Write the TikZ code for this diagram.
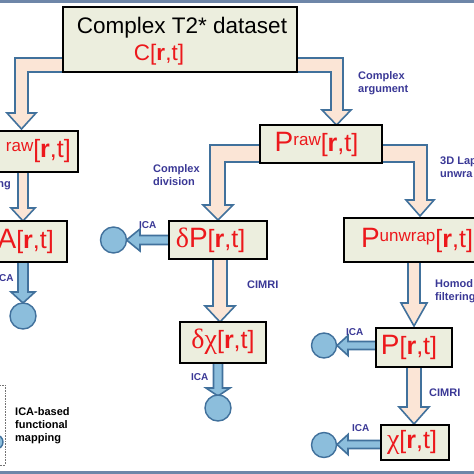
\documentclass[tikz,border=0pt]{standalone}
\usepackage{fontspec}
\setmainfont{Liberation Sans}
\newfontfamily\grk{Liberation Serif}
\definecolor{boxfill}{RGB}{236,238,222}
\definecolor{peach}{RGB}{251,229,214}
\definecolor{arrowedge}{RGB}{65,113,156}
\definecolor{bluefill}{RGB}{140,190,220}
\definecolor{redc}{RGB}{236,24,28}
\definecolor{lblue}{RGB}{58,56,150}
\definecolor{band}{RGB}{110,134,168}
\newcommand\bigt[1]{{\fontsize{28}{28}\selectfont #1}}
\newcommand\rtt{{\fontsize{25}{25}\selectfont[\textbf{r},t]}}
\newcommand\sups[1]{\raisebox{6pt}{\fontsize{17}{17}\selectfont #1}}
\newcommand\grkbig[1]{{\grk\fontsize{28}{28}\selectfont #1}}
% vertical block arrow: style, cx, ytop, ybase, ytip, half shaft, half head
\newcommand\varrow[7]{\draw[#1] ({#2-#6},#3) -- ({#2-#6},#4) -- ({#2-#7},#4) -- (#2,#5) -- ({#2+#7},#4) -- ({#2+#6},#4) -- ({#2+#6},#3) -- cycle;}
% leftward block arrow: style, xright, xbase, xtip, cy, half shaft, half head
\newcommand\harrow[7]{\draw[#1] (#2,{#5-#6}) -- (#3,{#5-#6}) -- (#3,{#5-#7}) -- (#4,#5) -- (#3,{#5+#7}) -- (#3,{#5+#6}) -- (#2,{#5+#6}) -- cycle;}
\tikzset{
  box/.style={draw=black, line width=1.8pt, fill=boxfill, inner sep=0pt, outer sep=0pt},
  peacharrow/.style={draw=arrowedge, line width=1.6pt, fill=peach, line join=miter},
  bluearrow/.style={draw=arrowedge, line width=1.6pt, fill=bluefill, line join=miter},
  bluecirc/.style={draw=arrowedge, line width=1.4pt, fill=bluefill, circle, inner sep=0pt},
  lbl/.style={text=lblue, font=\bfseries\fontsize{11}{13}\selectfont, align=left, inner sep=0pt},
  redtxt/.style={text=redc, inner sep=0pt},
}
\begin{document}
\begin{tikzpicture}[x=1pt,y=-1pt]
\useasboundingbox (0,0) rectangle (474,474);
\fill[white] (0,0) rectangle (474,474);
\fill[band] (0,0) rectangle (474,2.5);
\fill[band] (0,471) rectangle (474,474);

% ---- block arrows (drawn first, boxes cover their ends)
\draw[peacharrow] (70,58) -- (15,58) -- (15,113) -- (7,113) -- (21.5,129) -- (36,113) -- (28,113) -- (28,72) -- (70,72) -- cycle;
\draw[peacharrow] (290,58) -- (343,58) -- (343,110) -- (351,110) -- (336.5,125) -- (322,110) -- (331,110) -- (331,72) -- (290,72) -- cycle;
\varrow{peacharrow}{23}{170}{208}{221}{5}{12}
\varrow{bluearrow}{23}{260}{292}{303}{5}{12}
\draw[peacharrow] (264,145) -- (210,145) -- (210,205) -- (203,205) -- (218,220) -- (233,205) -- (225,205) -- (225,162) -- (264,162) -- cycle;
\harrow{bluearrow}{171}{140}{126.5}{240}{4.5}{11}
\varrow{peacharrow}{220}{257}{306}{322}{7}{15}
\varrow{bluearrow}{218}{361}{388}{396}{4.5}{12}
\draw[peacharrow] (378,145) -- (427,145) -- (427,200) -- (434,200) -- (420,216) -- (406,200) -- (414,200) -- (414,162) -- (378,162) -- cycle;
\varrow{peacharrow}{414}{260}{303}{326}{6}{13}
\harrow{bluearrow}{378}{348}{337}{345.5}{4}{10}
\varrow{peacharrow}{414}{365}{407}{424}{7}{15}
\harrow{bluearrow}{383}{348}{337}{444.5}{4}{10}

% ---- circles
\node[bluecirc, minimum size=26pt] (c1) at (23,316) {};
\node[bluecirc, minimum size=26pt] (c2) at (113.5,240) {};
\node[bluecirc, minimum size=26pt] (c3) at (218,408) {};
\node[bluecirc, minimum size=25pt] (c4) at (324,345.5) {};
\node[bluecirc, minimum size=25pt] (c5) at (324,445) {};

% ---- boxes
\node[box, minimum width=234pt, minimum height=65pt] (top) at (180,39.5) {};
\node[box, minimum width=88pt, minimum height=41pt] (prawL) at (34,151.5) {};
\node[box, minimum width=77pt, minimum height=41pt] (A) at (28.5,241.5) {};
\node[box, minimum width=122pt, minimum height=38pt] (praw) at (321,144) {};
\node[box, minimum width=98pt, minimum height=38pt] (dP) at (218,240) {};
\node[box, minimum width=86pt, minimum height=41pt] (dchi) at (223,342.5) {};
\node[box, minimum width=136pt, minimum height=44pt] (pun) at (412,240) {};
\node[box, minimum width=76pt, minimum height=39pt] (P) at (414,347.5) {};
\node[box, minimum width=68pt, minimum height=35pt] (chi) at (415,442.5) {};

% ---- box texts
\node[inner sep=0pt, font=\fontsize{22.5}{27}\selectfont] (toptxt) at (182,28) {Complex T2* dataset};
\node[redtxt, font=\fontsize{22.5}{27}\selectfont] (toprt) at (159,55) {C[\textbf{r},t]};
\node[redtxt, anchor=east] (prawLtxt) at (71,151) {\sups{raw}\rtt};
\node[redtxt, anchor=east] (Atxt) at (54,241) {\bigt{A}\rtt};
\node[redtxt] (prawtxt) at (316.5,144) {\bigt{P}\sups{raw}\rtt};
\node[redtxt] (dPtxt) at (210.5,240) {\grkbig{δ}\bigt{P}\rtt};
\node[redtxt] (dchitxt) at (223,342) {\grkbig{δχ}\rtt};
\node[redtxt] (puntxt) at (417,240) {\bigt{P}\sups{unwrap}\rtt};
\node[redtxt] (Ptxt) at (409,347) {\bigt{P}\rtt};
\node[redtxt] (chitxt) at (412,442) {\grkbig{χ}\rtt};

% ---- labels
\node[lbl, anchor=west] (l1) at (358,83.5) {Complex\\argument};
\node[lbl, anchor=west] (l2) at (153,175) {Complex\\division};
\node[lbl, anchor=east] (l3) at (11,186) {ng};
\node[lbl, anchor=west, font=\bfseries\fontsize{10}{12}\selectfont] (l4) at (-1,278) {CA};
\node[lbl, anchor=west, font=\bfseries\fontsize{10}{12}\selectfont] (l5) at (139,225) {ICA};
\node[lbl, anchor=west] (l6) at (247,285) {CIMRI};
\node[lbl, anchor=west, font=\bfseries\fontsize{10}{12}\selectfont] (l7) at (191,377) {ICA};
\node[lbl, anchor=west] (l8) at (440,167) {3D Lap\\unwra};
\node[lbl, anchor=west] (l9) at (435,291.5) {Homod\\filtering};
\node[lbl, anchor=west, font=\bfseries\fontsize{10}{12}\selectfont] (l10) at (346,332) {ICA};
\node[lbl, anchor=west] (l11) at (429,393) {CIMRI};
\node[lbl, anchor=west, font=\bfseries\fontsize{10}{12}\selectfont] (l12) at (352,428) {ICA};

% ---- legend
\draw[densely dotted, draw=black!55, line width=0.6pt] (-10,385) rectangle (5,465);
\node[bluecirc, minimum size=14pt] (legc) at (-4,442) {};
\node[lbl, text=black, anchor=west] (legtxt) at (15,425.5) {ICA-based\\functional\\mapping};
\end{tikzpicture}
\end{document}
